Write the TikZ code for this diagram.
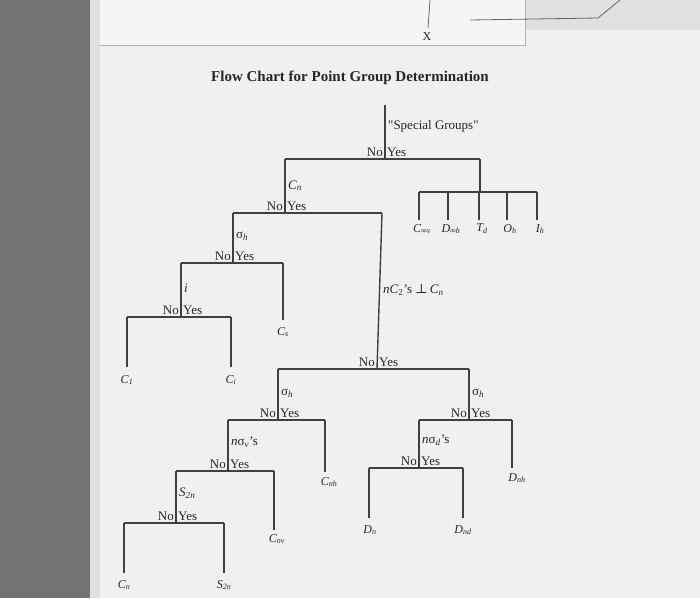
\documentclass[tikz,border=0pt]{standalone}
\usepackage{fontspec}
\setmainfont{Liberation Serif}
\newfontfamily\djv{DejaVu Serif}
\newfontfamily\lsq{Liberation Serif}
\newcommand\sub[1]{\textsubscript{#1}}
\begin{document}
\begin{tikzpicture}[x=1pt,y=-1pt,
  ln/.style={draw=black!75,line width=1.4pt},
  lab/.style={font=\fontsize{13}{15}\selectfont,text=black!85,inner sep=1pt},
  nolab/.style={lab,anchor=south east,inner sep=1pt},
  yeslab/.style={lab,anchor=south west,inner sep=1pt},
  leaf/.style={lab,font=\fontsize{12}{14}\selectfont\itshape}]
\useasboundingbox (0,0) rectangle (700,598);
\fill[black!55] (0,0) rectangle (700,598);
\fill[black!12] (90,0) rectangle (700,598);
\fill[black!6] (100,30) rectangle (700,598);
\fill[black!4] (100,0) rectangle (525,45);
\draw[black!30] (100,45) -- (525,45) -- (525,0);
\draw[black!60,line width=0.8pt] (430,0) -- (428,28) (470,20) -- (598,18) -- (620,0);
\node[lab,font=\fontsize{12}{14}\selectfont] (x) at (427,37) {X};
\node[lab,font=\fontsize{15}{17}\selectfont\bfseries] (title) at (350,78) {Flow Chart for Point Group Determination};
\newcommand\nys[2]{\node[nolab] at (#1-1,#2-1) {No};\node[yeslab] at (#1+1,#2-1) {Yes};}
% root
\coordinate (r0) at (385,105); \coordinate (r1) at (385,159);
\node[lab,anchor=west] (sg) at (387,126) {{\lsq"}Special Groups{\lsq"}};
\nys{385}{159}
\draw[ln] (r0) -- (r1) (285,159) -- (480,159);
% special groups
\draw[ln] (480,159) -- (480,192) (419,192) -- (537,192);
\foreach \xx/\t in {419/C\sub{∞v},448/D\sub{∞h},479/T\sub{d},507/O\sub{h},537/I\sub{h}}{
  \draw[ln] (\xx,192) -- (\xx,220);
  \node[leaf] at (\xx+3,229) {\t};}
% Cn
\node[lab,anchor=south west,font=\fontsize{13}{15}\selectfont\itshape] at (287,192) {C\sub{n}};
\nys{285}{213}
\draw[ln] (285,159) -- (285,213) (233,213) -- (382,213);
% nC2's
\draw[ln] (382,213) -- (377,369);
\node[lab,anchor=west] at (382,290) {\textit{n}\textit{C}\sub{2}'s {\djv⊥}\,\textit{C}\sub{\textit{n}}};
% sigma h (left upper)
\node[lab,anchor=south west] at (235,242) {σ\sub{\textit{h}}};
\nys{233}{263}
\draw[ln] (233,213) -- (233,263) (181,263) -- (283,263) (283,263) -- (283,320);
\node[leaf] at (283,332) {C\sub{s}};
% i
\node[lab,anchor=south west,font=\fontsize{13}{15}\selectfont\itshape] at (183,294) {i};
\nys{181}{317}
\draw[ln] (181,263) -- (181,317) (127,317) -- (231,317) (127,317) -- (127,367) (231,317) -- (231,367);
\node[leaf] at (127,380) {C\sub{1}};
\node[leaf] at (231,380) {C\sub{i}};
% nC2 yes/no
\nys{377}{369}
\draw[ln] (278,369) -- (469,369);
% left sigma h
\node[lab,anchor=south west] at (280,399) {σ\sub{\textit{h}}};
\nys{278}{420}
\draw[ln] (278,369) -- (278,420) (228,420) -- (325,420) (325,420) -- (325,472);
\node[leaf] at (329,482) {C\sub{nh}};
% n sigma v
\node[lab,anchor=south west] at (230,449) {\textit{n}σ\sub{\textit{v}}'s};
\nys{228}{471}
\draw[ln] (228,420) -- (228,471) (176,471) -- (274,471) (274,471) -- (274,530);
\node[leaf] at (277,539) {C\sub{nv}};
% S2n
\node[lab,anchor=south west,font=\fontsize{13}{15}\selectfont\itshape] at (178,500) {S\sub{2n}};
\nys{176}{523}
\draw[ln] (176,471) -- (176,523) (124,523) -- (224,523) (124,523) -- (124,573) (224,523) -- (224,573);
\node[leaf] at (124,585) {C\sub{n}};
\node[leaf] at (224,585) {S\sub{2n}};
% right sigma h
\node[lab,anchor=south west] at (471,399) {σ\sub{\textit{h}}};
\nys{469}{420}
\draw[ln] (469,369) -- (469,420) (419,420) -- (512,420) (512,420) -- (512,468);
\node[leaf] at (517,478) {D\sub{nh}};
% n sigma d
\node[lab,anchor=south west] at (421,447) {\textit{n}σ\sub{\textit{d}}'s};
\nys{419}{468}
\draw[ln] (419,420) -- (419,468) (369,468) -- (463,468) (369,468) -- (369,518) (463,468) -- (463,518);
\node[leaf] at (370,530) {D\sub{n}};
\node[leaf] at (463,530) {D\sub{nd}};
\end{tikzpicture}
\end{document}
